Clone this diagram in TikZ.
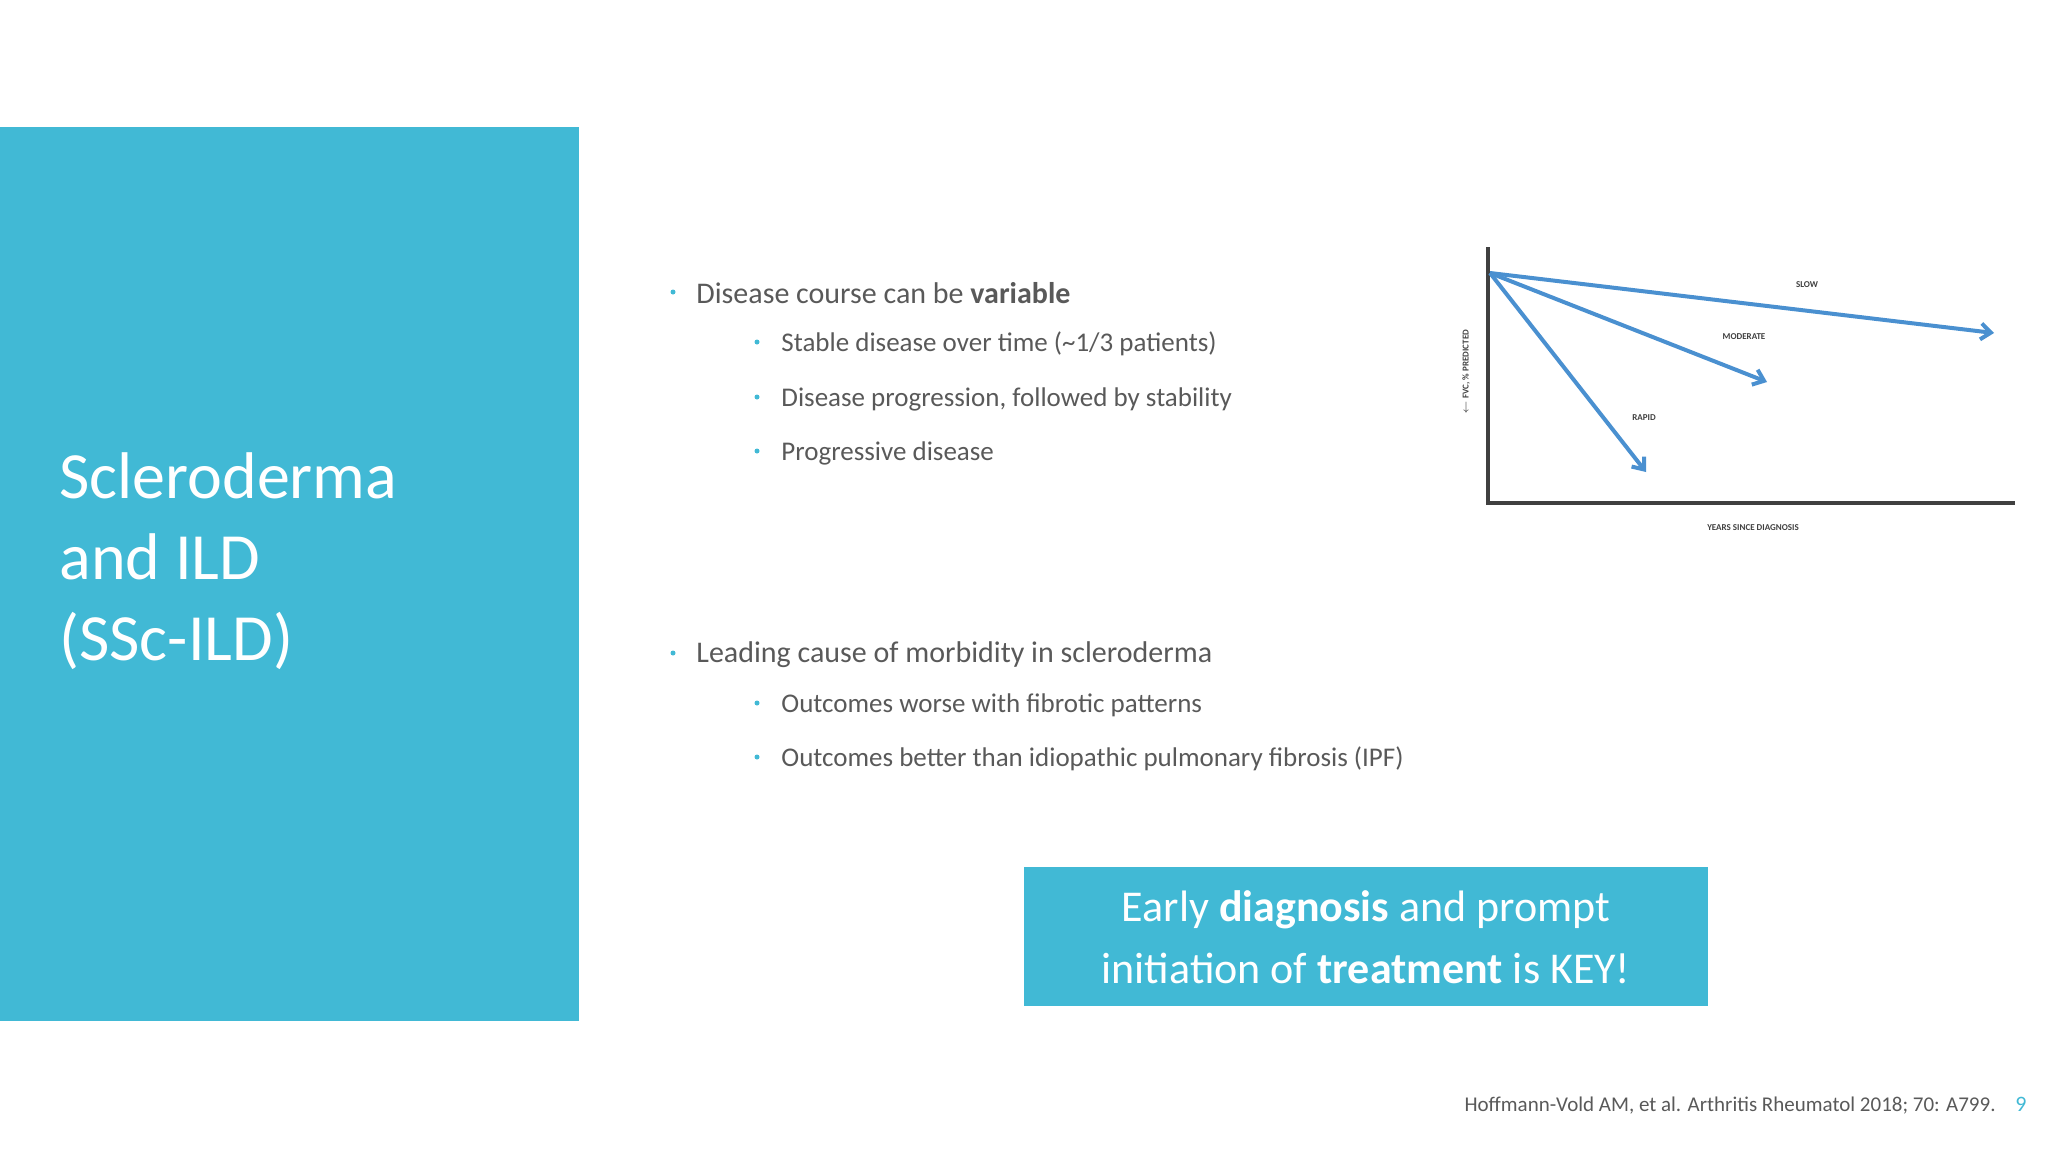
\documentclass[tikz,border=0pt]{standalone}
\usepackage{fontspec}
\setmainfont{Carlito}
\usetikzlibrary{arrows.meta}
\definecolor{teal}{HTML}{41B9D5}
\definecolor{txt}{HTML}{595959}
\definecolor{arr}{HTML}{4A90D0}
\begin{document}
\begin{tikzpicture}[x=0.5pt,y=-0.5pt,
  main/.style={anchor=west,text=txt,font=\fontsize{15}{18}\selectfont,inner sep=0},
  sub/.style={anchor=west,text=txt,font=\fontsize{13.5}{16}\selectfont,inner sep=0},
  dot/.style={circle,fill=teal,inner sep=0,minimum size=2.5pt},
  lbl/.style={font=\bfseries\fontsize{4.5}{5}\selectfont,text=black!75,inner sep=0},
  trend/.style={draw=arr,line width=2pt,-{Straight Barb[length=5pt,width=8pt]}}]
\useasboundingbox (0,0) rectangle (2048,1152);
\fill[teal] (0,127) rectangle (579,1021);
\node[anchor=north west,align=left,text=white,font=\fontsize{33}{40.5}\selectfont,inner sep=0] (title) at (59,452) {Scleroderma\\and ILD\\(SSc-ILD)};
\node[dot] (d1) at (673,292) {}; \node[main] (b1) at (696,293) {Disease course can be \textbf{variable}};
\node[dot] (d2) at (757,342) {}; \node[sub] (s1) at (781,344) {Stable disease over time (\textasciitilde1/3 patients)};
\node[dot] (d3) at (757,397) {}; \node[sub] (s2) at (781,399) {Disease progression, followed by stability};
\node[dot] (d4) at (757,451) {}; \node[sub] (s3) at (781,453) {Progressive disease};
\node[dot] (d5) at (673,653) {}; \node[main] (b2) at (696,655) {Leading cause of morbidity in scleroderma};
\node[dot] (d6) at (757,703) {}; \node[sub] (s4) at (781,705) {Outcomes worse with fibrotic patterns};
\node[dot] (d7) at (757,757) {}; \node[sub] (s5) at (781,759) {Outcomes better than idiopathic pulmonary fibrosis (IPF)};
\fill[teal] (1024,867) rectangle (1708,1006);
\node[align=center,text=white,font=\fontsize{22}{31}\selectfont] (key) at (1366,937) {Early \textbf{diagnosis} and prompt\\initiation of \textbf{treatment} is KEY!};
\node[anchor=east,text=txt,font=\fontsize{10.5}{12}\selectfont,inner sep=0] (ref) at (1996,1106) {Hoffmann-Vold AM, et al. Arthritis Rheumatol 2018; 70: A799.};
\node[text=teal,font=\fontsize{11}{12}\selectfont,inner sep=0] (pg) at (2021,1104) {9};
% chart
\coordinate (top) at (1488,247);
\coordinate (orig) at (1488,503);
\coordinate (right) at (2015,503);
\draw[black!75,line width=1.6pt] (top) -- (orig) -- (right);
\coordinate (o) at (1490,273);
\coordinate (se) at (1994,333);
\coordinate (me) at (1767,382);
\coordinate (re) at (1646,472);
\draw[trend] (o) -- (se);
\draw[trend] (o) -- (me);
\draw[trend] (o) -- (re);
\node[lbl] (ls) at (1807,285) {SLOW};
\node[lbl] (lm) at (1744,337) {MODERATE};
\node[lbl] (lr) at (1644,418) {RAPID};
\node[lbl] (lx) at (1753,528) {YEARS SINCE DIAGNOSIS};
\node[lbl,rotate=90] (ly) at (1466,372) {$\leftarrow$ FVC, \% PREDICTED};
\end{tikzpicture}
\end{document}
